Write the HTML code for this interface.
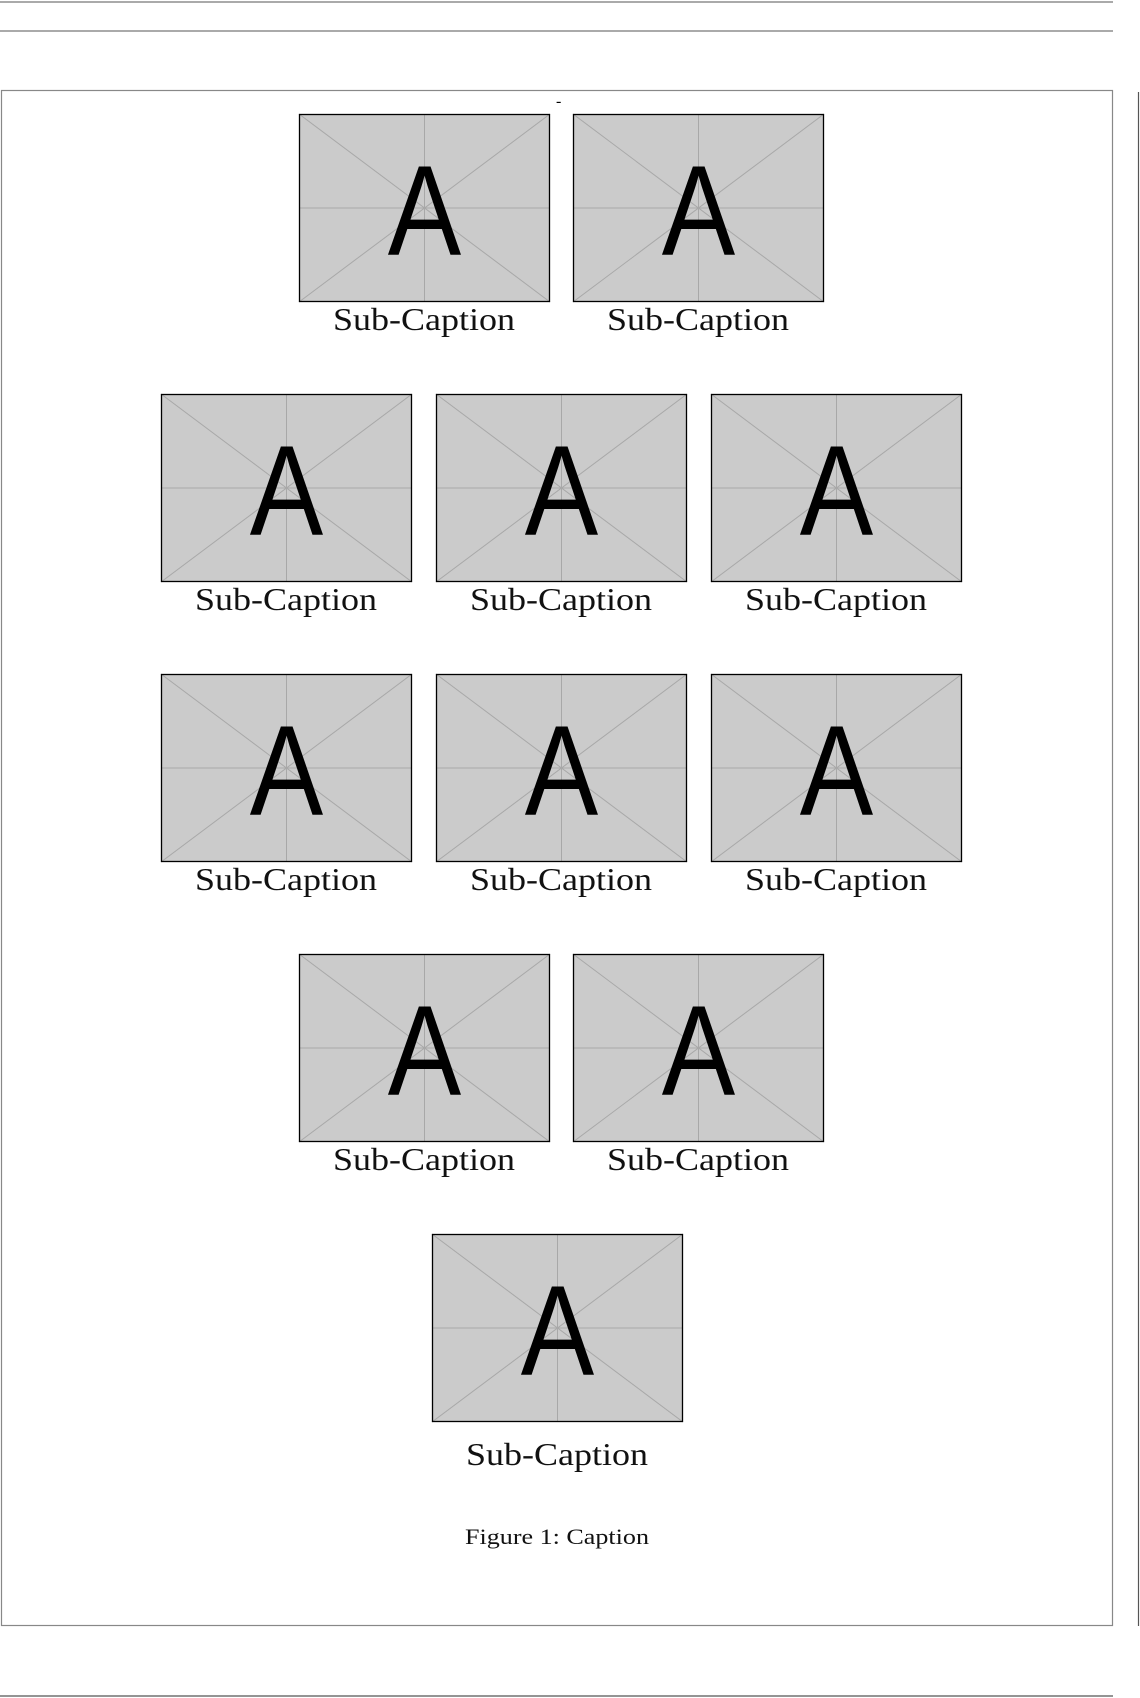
<!DOCTYPE html>
<html><head><meta charset="utf-8"><style>
html,body{margin:0;padding:0;background:#fff;}
svg{display:block;}
</style></head><body>
<svg width="1140" height="1698" viewBox="0 0 1140 1698" xmlns="http://www.w3.org/2000/svg">
<defs>
<g id="ph">
<rect x="0" y="0" width="251" height="188" fill="#cbcbcb"/>
<line x1="0" y1="0" x2="251" y2="188" stroke="#a8a8a8" stroke-width="1"/>
<line x1="251" y1="0" x2="0" y2="188" stroke="#a8a8a8" stroke-width="1"/>
<line x1="125.5" y1="0" x2="125.5" y2="188" stroke="#a8a8a8" stroke-width="1"/>
<line x1="0" y1="94" x2="251" y2="94" stroke="#a8a8a8" stroke-width="1"/>
<text x="0" y="0" transform="translate(125.5,141) scale(0.86,1)" text-anchor="middle" font-family="Liberation Sans, sans-serif" font-size="128" fill="#000">A</text>
<rect x="0.5" y="0.5" width="250" height="187" fill="none" stroke="#000" stroke-width="1.3"/>
</g>
</defs>
<line x1="0" y1="2" x2="1113" y2="2" stroke="#777" stroke-width="1.2"/>
<line x1="0" y1="31" x2="1113" y2="31" stroke="#777" stroke-width="1.2"/>
<rect x="1.5" y="90.5" width="1111" height="1535" fill="none" stroke="#888" stroke-width="1.2"/>
<line x1="1138.5" y1="92" x2="1138.5" y2="1626" stroke="#555" stroke-width="1.2"/>
<line x1="0" y1="1696" x2="1113" y2="1696" stroke="#555" stroke-width="1.2"/>
<text x="556" y="106" font-family="Liberation Serif, serif" font-size="16">-</text>
<g font-family="Liberation Serif, serif" font-size="32" text-anchor="middle" fill="#111">
<use href="#ph" x="299" y="114"/><use href="#ph" x="573" y="114"/>
<text x="424" y="330" textLength="182" lengthAdjust="spacingAndGlyphs">Sub-Caption</text><text x="698" y="330" textLength="182" lengthAdjust="spacingAndGlyphs">Sub-Caption</text>
<use href="#ph" x="161" y="394"/><use href="#ph" x="436" y="394"/><use href="#ph" x="711" y="394"/>
<text x="286" y="610" textLength="182" lengthAdjust="spacingAndGlyphs">Sub-Caption</text><text x="561" y="610" textLength="182" lengthAdjust="spacingAndGlyphs">Sub-Caption</text><text x="836" y="610" textLength="182" lengthAdjust="spacingAndGlyphs">Sub-Caption</text>
<use href="#ph" x="161" y="674"/><use href="#ph" x="436" y="674"/><use href="#ph" x="711" y="674"/>
<text x="286" y="890" textLength="182" lengthAdjust="spacingAndGlyphs">Sub-Caption</text><text x="561" y="890" textLength="182" lengthAdjust="spacingAndGlyphs">Sub-Caption</text><text x="836" y="890" textLength="182" lengthAdjust="spacingAndGlyphs">Sub-Caption</text>
<use href="#ph" x="299" y="954"/><use href="#ph" x="573" y="954"/>
<text x="424" y="1170" textLength="182" lengthAdjust="spacingAndGlyphs">Sub-Caption</text><text x="698" y="1170" textLength="182" lengthAdjust="spacingAndGlyphs">Sub-Caption</text>
<use href="#ph" x="432" y="1234"/>
<text x="557" y="1465" textLength="182" lengthAdjust="spacingAndGlyphs">Sub-Caption</text>
<text x="557" y="1544" font-size="22" textLength="184" lengthAdjust="spacingAndGlyphs">Figure 1: Caption</text>
</g>
</svg>
</body></html>
